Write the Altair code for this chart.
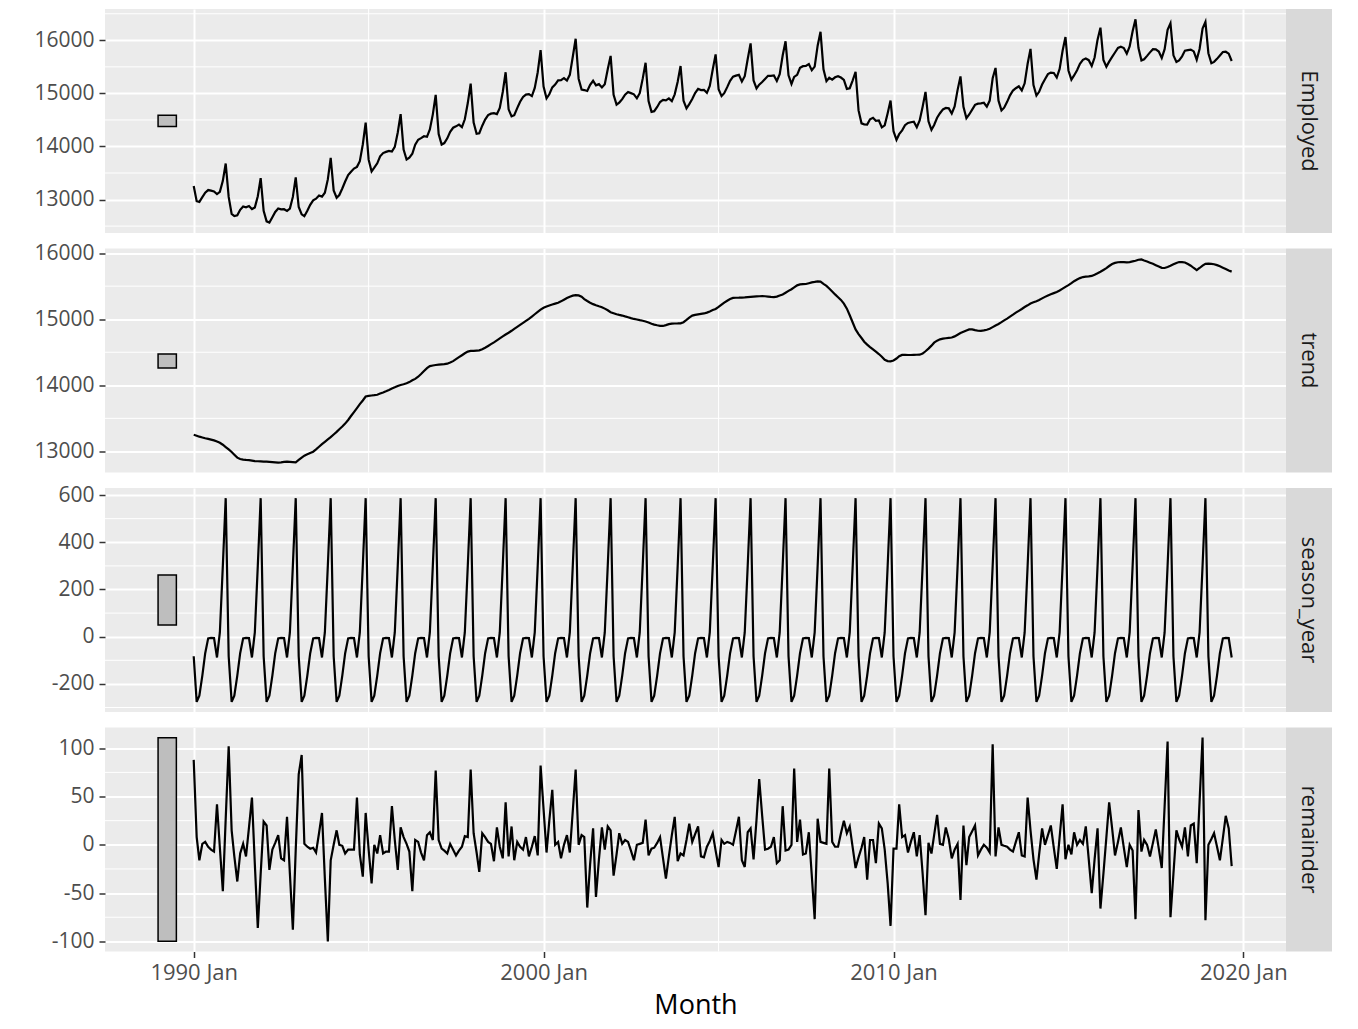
import altair as alt
import pandas as pd

# ---------------- data ----------------
first_month = "1990-01-01"

# periodic seasonal component, Jan..Dec
season_pattern = [-83, -276, -250, -165, -70, -7, -5, -6, -88, 18, 300, 587]

trend = [
    13251, 13237, 13222, 13210, 13198, 13188, 13177, 13166, 13150, 13130, 13100, 13065,
    13030, 12990, 12950, 12905, 12885, 12876, 12870, 12866, 12860, 12852, 12850, 12848,
    12846, 12845, 12842, 12838, 12834, 12830, 12834, 12840, 12845, 12842, 12838, 12835,
    12870, 12905, 12935, 12955, 12975, 12995, 13030, 13070, 13110, 13145, 13180, 13215,
    13255, 13295, 13335, 13375, 13420, 13475, 13535, 13595, 13655, 13715, 13770, 13830,
    13840, 13845, 13850, 13857, 13875, 13892, 13910, 13930, 13952, 13970, 13990, 14005,
    14015, 14030, 14048, 14075, 14097, 14130, 14170, 14215, 14260, 14290, 14300, 14307,
    14312, 14316, 14320, 14327, 14345, 14365, 14395, 14425, 14455, 14485, 14510, 14520,
    14522, 14525, 14528, 14545, 14568, 14595, 14622, 14650, 14680, 14710, 14740, 14768,
    14795, 14825, 14855, 14885, 14915, 14945, 14975, 15005, 15040, 15075, 15110, 15145,
    15174, 15192, 15208, 15222, 15236, 15250, 15270, 15295, 15320, 15340, 15356, 15364,
    15360, 15340, 15305, 15275, 15250, 15228, 15210, 15195, 15182, 15160, 15135, 15105,
    15090, 15075, 15065, 15055, 15042, 15030, 15016, 15004, 14995, 14985, 14976, 14965,
    14950, 14932, 14918, 14908, 14900, 14898, 14910, 14925, 14933, 14935, 14936, 14938,
    14955, 14990, 15025, 15055, 15066, 15074, 15080, 15087, 15100, 15118, 15138, 15155,
    15185, 15220, 15252, 15280, 15305, 15322, 15325, 15326, 15328, 15330, 15334, 15338,
    15342, 15345, 15347, 15349, 15347, 15342, 15338, 15335, 15342, 15358, 15374, 15400,
    15428, 15454, 15482, 15512, 15526, 15530, 15533, 15545, 15558, 15564, 15572, 15570,
    15535, 15505, 15465, 15420, 15375, 15333, 15292, 15235, 15160, 15060, 14950, 14845,
    14775, 14715, 14660, 14615, 14578, 14542, 14508, 14473, 14432, 14385, 14366, 14362,
    14375, 14405, 14440, 14460, 14460, 14458, 14458, 14460, 14462, 14463, 14480, 14515,
    14555, 14600, 14645, 14675, 14695, 14705, 14712, 14718, 14723, 14740, 14765, 14790,
    14810, 14830, 14845, 14846, 14835, 14825, 14823, 14830, 14840, 14855, 14880, 14905,
    14928, 14955, 14982, 15008, 15038, 15068, 15099, 15127, 15155, 15184, 15210, 15237,
    15255, 15272, 15290, 15315, 15338, 15360, 15378, 15395, 15412, 15435, 15462, 15490,
    15515, 15545, 15575, 15600, 15622, 15638, 15643, 15647, 15655, 15673, 15695, 15718,
    15745, 15772, 15805, 15835, 15852, 15862, 15865, 15863, 15861, 15865, 15875, 15885,
    15900, 15905, 15888, 15872, 15855, 15838, 15818, 15798, 15778, 15775, 15790, 15808,
    15830, 15852, 15865, 15865, 15858, 15835, 15810, 15775, 15742, 15775, 15812, 15838,
    15840, 15838, 15832, 15818, 15800, 15780, 15760, 15738, 15720,
]

remainder = [
    88, 8, -16, 1, 3, -2, -5, -7, 42, -3, -48, 27,
    102, 15, -12, -38, -9, 1, -12, 18, 49, -20, -86, -30,
    24, 20, -26, -5, 2, 10, -14, -16, 29, -30, -88, -5,
    73, 93, 1, -2, -4, -3, -8, 12, 33, -35, -100, -16,
    0, 15, 0, -1, -9, -5, -5, -5, 49, -10, -33, 33,
    -5, -40, 0, -9, 10, -9, -7, -7, 40, 5, -26, 18,
    8, 1, -7, -48, 5, 3, -8, -16, 10, 13, 5, 77,
    5, -4, -6, -9, 1, -5, -11, -6, -2, 9, 8, 78,
    12, -8, -28, 12, 8, 3, 1, -17, 18, -2, -14, 44,
    -12, 19, -16, 3, -2, -5, 8, -12, -2, 9, -11, 82,
    37, -8, 25, 57, 0, 3, -14, 0, 10, -8, 35, 78,
    0, 10, 8, -65, -20, 17, -54, -15, 18, -5, 19, 15,
    -32, -10, 12, 1, 5, 3, -6, -16, 0, 1, 2, 26,
    -11, -4, -3, 2, 8, -14, -35, -12, 10, 29, -17, -9,
    -11, 5, 22, 3, 11, 19, -12, -13, -2, 4, 12, -6,
    -23, 5, 1, 3, 2, 0, 14, 29, -16, -23, 13, 17,
    -15, 26, 68, 30, -5, -4, -2, 8, -19, -16, 40, -6,
    -5, 0, 79, 3, 26, -10, -9, 13, -32, -77, 27, 3,
    2, 1, 79, 3, -2, -2, 12, 25, 12, 19, -3, -24,
    -13, -3, 8, -36, 5, 5, -19, 22, 17, -5, -40, -84,
    -4, -4, 42, 8, 10, -8, 3, 13, -12, 10, -30, -73,
    2, -9, 10, 31, 1, 0, 18, 6, -14, -5, 1, -57,
    20, -21, 8, 14, 20, -11, -5, 0, -3, -8, 104, -12,
    18, 0, -1, -2, -5, -7, 3, 13, -11, -12, 49, 15,
    -15, -36, -10, 17, 0, 10, 20, -3, -25, 8, 42, -15,
    0, -10, 13, 0, 5, 1, 19, -15, -50, -15, 17, -66,
    -30, 8, 44, 17, -11, 3, 18, -3, -23, 0, -6, -77,
    36, -7, 5, 0, -12, 2, 16, -4, -24, 40, 107, -75,
    -30, 15, 6, -2, 18, -12, 20, 22, -19, 45, 111, -78,
    0, 6, 12, -2, -16, 7, 30, 17, -22,
]

component_names = ["Employed", "trend", "season_year", "remainder"]

# axis breaks (major, minor) per panel
y_breaks = {
    "Employed": ([13000, 14000, 15000, 16000], [12500, 13500, 14500, 15500, 16500]),
    "trend": ([13000, 14000, 15000, 16000], [13500, 14500, 15500]),
    "season_year": ([-200, 0, 200, 400, 600], [-300, -100, 100, 300, 500]),
    "remainder": ([-100, -50, 0, 50, 100], [-75, -25, 25, 75]),
}
y_domains = {
    "Employed": [12370, 16590],
    "trend": [12680, 16070],
    "season_year": [-319, 630],
    "remainder": [-110.5, 121.5],
}
x_major_years = [1990, 2000, 2010, 2020]
x_minor_years = [1995, 2005, 2015]

# ---------------- build tables ----------------
n = len(trend)
dates = pd.date_range(first_month, periods=n, freq="MS")
season = [season_pattern[i % 12] for i in range(n)]
employed = [t + s + r for t, s, r in zip(trend, season, remainder)]
series = {"Employed": employed, "trend": trend, "season_year": season, "remainder": remainder}

half_bar = (max(remainder) - min(remainder)) / 2.0

FONT = "Open Sans"
Y_LABEL_SIZE = 21
X_LABEL_SIZE = 22
STRIP_SIZE = 22
TITLE_SIZE = 27
PANEL_W = 1181
PANEL_H = 224
STRIP_W = 46

x_scale = alt.Scale(
    type="utc",
    domain=[alt.DateTime(year=1987, month=6, date=20, utc=True),
            alt.DateTime(year=2021, month=3, date=21, utc=True)],
)
x_major_vals = [alt.DateTime(year=y, month=1, date=1, utc=True) for y in x_major_years]
x_minor_df = pd.DataFrame({"d": [pd.Timestamp(f"{y}-01-01") for y in x_minor_years]})


def x_axis(bottom):
    if bottom:
        return alt.Axis(
            values=x_major_vals, grid=True, gridColor="white", gridWidth=2, domain=False,
            title="Month",
            labelExpr="utcFormat(datum.value, '%Y %b')",
            tickSize=6, tickWidth=1.5, tickColor="#333333",
            labelPadding=5, labelFont=FONT, labelFontSize=X_LABEL_SIZE, labelColor="#4D4D4D",
            titleFont=FONT, titleFontSize=TITLE_SIZE, titleFontWeight="normal", titleColor="black",
            titlePadding=9, labelFlush=False, labelOverlap=False,
        )
    return alt.Axis(values=x_major_vals, grid=True, gridColor="white", gridWidth=2,
                    domain=False, labels=False, ticks=False, title=None)


panels = []
for name in component_names:
    vals = series[name]
    major, minor = y_breaks[name]
    mid = (max(vals) + min(vals)) / 2.0
    bottom = name == component_names[-1]
    x_title = "Month" if bottom else None

    df = pd.DataFrame({"Month": dates, "value": vals})
    bar_df = pd.DataFrame({
        "x0": [pd.Timestamp("1988-12-25")], "x1": [pd.Timestamp("1989-07-04")],
        "y0": [mid - half_bar], "y1": [mid + half_bar],
    })
    minor_y_df = pd.DataFrame({"v": minor})
    strip_df = pd.DataFrame({"label": [name]})

    y_axis = alt.Axis(
        values=major,
        labelExpr="'' + datum.value",
        gridColor="white", gridWidth=2, grid=True, domain=False,
        tickSize=6, tickWidth=1.5, tickColor="#333333",
        labelFont=FONT, labelFontSize=Y_LABEL_SIZE, labelColor="#4D4D4D", labelPadding=5,
        minExtent=97, maxExtent=97, title=None, labelOverlap=False, labelFlush=False,
    )
    y_scale = alt.Scale(domain=y_domains[name], nice=False, zero=False)

    minor_y = alt.Chart(minor_y_df).mark_rule(color="white", strokeWidth=1).encode(
        y=alt.Y("v:Q", scale=y_scale, axis=y_axis, title=None),
    )
    minor_x = alt.Chart(x_minor_df).mark_rule(color="white", strokeWidth=1).encode(
        x=alt.X("d:T", scale=x_scale, axis=x_axis(bottom), title=x_title),
    )
    bar = alt.Chart(bar_df).mark_rect(fill="#BEBEBE", stroke="black", strokeWidth=1.5).encode(
        x=alt.X("x0:T", scale=x_scale, title=x_title),
        x2="x1:T",
        y=alt.Y("y0:Q", scale=y_scale, title=None),
        y2="y1:Q",
    )
    line = alt.Chart(df).mark_line(color="black", strokeWidth=2.2).encode(
        x=alt.X("Month:T", scale=x_scale, title=x_title),
        y=alt.Y("value:Q", scale=y_scale, title=None),
    )
    # facet strip on the right of the panel (ggplot-style)
    strip_bg = alt.Chart(strip_df).mark_rect(fill="#D9D9D9").encode(
        x=alt.value(PANEL_W), x2=alt.value(PANEL_W + STRIP_W),
        y=alt.value(0), y2=alt.value(PANEL_H),
    )
    strip_txt = alt.Chart(strip_df).mark_text(
        angle=90, font=FONT, fontSize=STRIP_SIZE, color="#1A1A1A", align="center", baseline="middle"
    ).encode(x=alt.value(PANEL_W + STRIP_W / 2), y=alt.value(PANEL_H / 2), text="label:N")

    panel = alt.layer(minor_y, minor_x, bar, line, strip_bg, strip_txt).properties(
        width=PANEL_W, height=PANEL_H
    )
    panels.append(panel)

chart = (
    alt.vconcat(*panels, spacing=15.5, bounds="flush")
    .properties(padding={"left": 0, "top": 0, "right": 0, "bottom": 8})
    .configure_view(fill="#EBEBEB", stroke=None)
)

chart.save("out.html", embed_options={"renderer": "svg", "actions": False})
